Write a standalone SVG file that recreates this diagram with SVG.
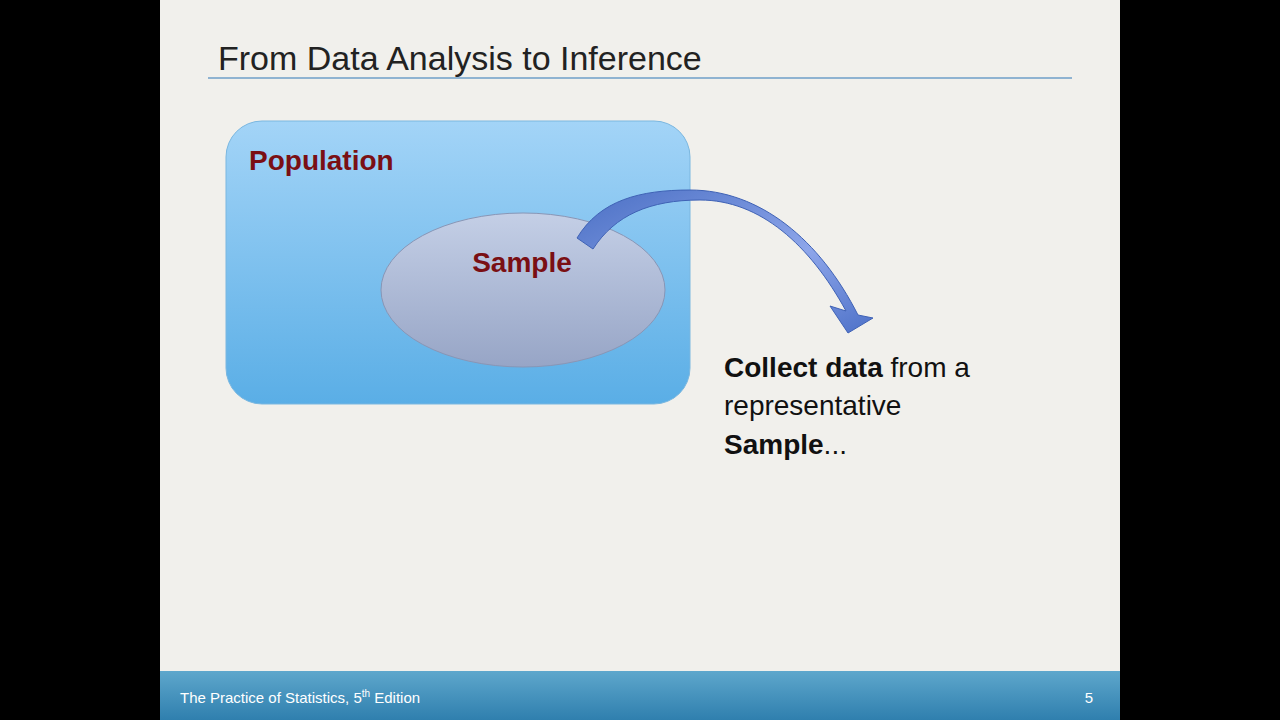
<svg xmlns="http://www.w3.org/2000/svg" width="1280" height="720" viewBox="0 0 1280 720">
<defs>
<linearGradient id="pop" x1="0" y1="0" x2="0" y2="1"><stop offset="0" stop-color="#a3d4f7"/><stop offset="1" stop-color="#5aaee6"/></linearGradient>
<linearGradient id="samp" x1="0" y1="0" x2="0" y2="1"><stop offset="0" stop-color="#c4cfe6"/><stop offset="1" stop-color="#97a5c6"/></linearGradient>
<linearGradient id="arr" x1="0" y1="0" x2="1" y2="1"><stop offset="0" stop-color="#4a6fc4"/><stop offset="0.6" stop-color="#8ea6ea"/><stop offset="1" stop-color="#4d71c8"/></linearGradient>
<linearGradient id="foot" x1="0" y1="0" x2="0" y2="1"><stop offset="0" stop-color="#5ea7cc"/><stop offset="1" stop-color="#2f7fae"/></linearGradient>
<style>
.t{font-family:"Liberation Sans",Arial,sans-serif}
</style>
</defs>
<rect width="1280" height="720" fill="#000"/>
<rect x="160" y="0" width="960" height="720" fill="#f1f0ec"/>
<text class="t" x="218" y="70" font-size="34" fill="#222">From Data Analysis to Inference</text>
<line x1="208" y1="78" x2="1072" y2="78" stroke="#8fb3d1" stroke-width="2"/>
<g id="population">
<rect x="226" y="121" width="464" height="283" rx="36" fill="url(#pop)" stroke="#7ab7e0"/>
<text class="t" x="249" y="170" font-size="28" font-weight="bold" fill="#7a0f14">Population</text>
</g>
<g id="sample">
<ellipse cx="523" cy="290" rx="142" ry="77" fill="url(#samp)" stroke="#8896b6"/>
<text class="t" x="522" y="272" font-size="28" font-weight="bold" fill="#7a0f14" text-anchor="middle">Sample</text>
</g>
<g id="connectors">
<path d="M577,238 C600,200 640,190 690,190 C760,190 820,240 858,315 L873,318 L848,333 L830,306 L846,311 C810,245 760,200 700,200 C650,200 615,215 593,249 Z" fill="url(#arr)" stroke="#3f62b5" stroke-width="1"/>
</g>
<g id="note" class="t" font-size="28" fill="#111">
<text x="724" y="377"><tspan font-weight="bold">Collect data</tspan> from a</text>
<text x="724" y="415">representative</text>
<text x="724" y="454"><tspan font-weight="bold">Sample</tspan>...</text>
</g>
<rect x="160" y="671" width="960" height="49" fill="url(#foot)"/>
<text class="t" x="180" y="703" font-size="15" fill="#fff">The Practice of Statistics, 5<tspan font-size="10" dy="-6">th</tspan><tspan dy="6"> Edition</tspan></text>
<text class="t" x="1093" y="703" font-size="15" fill="#fff" text-anchor="end">5</text>
</svg>
